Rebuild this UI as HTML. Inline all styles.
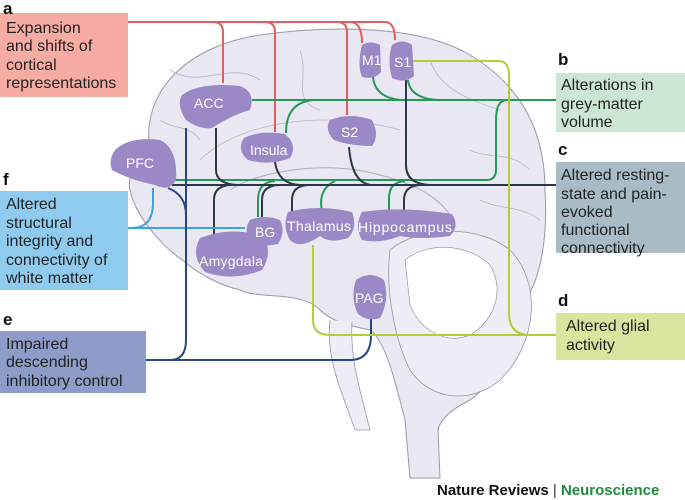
<!DOCTYPE html>
<html><head><meta charset="utf-8"><style>
body{margin:0;background:#fff}
svg{display:block}
text{font-family:"Liberation Sans",sans-serif}
.t{font-size:16px;fill:#222}
.w{font-size:14px;fill:#fff}
.l{font-size:17px;font-weight:bold;fill:#111}
</style></head><body>
<svg width="685" height="500" viewBox="0 0 685 500" xmlns="http://www.w3.org/2000/svg">
<path d="M150,150 C140,90 190,45 260,35 C330,25 420,25 470,55 C520,85 545,130 545,190 C548,240 540,280 525,300 C515,330 500,380 470,400 C450,410 440,420 438,430 L440,478 L410,478 L405,420 C395,380 385,340 370,330 C345,325 330,320 320,310 C300,290 260,300 240,290 C220,285 200,275 185,262 C160,245 135,215 130,190 C126,175 140,160 150,150 Z" fill="#e9e7f2" stroke="#9a98a8" stroke-width="1"/>
<path d="M390,250 C420,225 480,225 510,250 C540,280 540,340 500,380 C470,405 430,400 410,370 C395,340 385,290 390,250 Z" fill="#eeecf4" stroke="#9a98a8" stroke-width="0.8"/>
<path d="M405,260 C430,240 470,245 490,265 C505,290 495,320 470,335 C445,345 420,330 410,305 Z" fill="#fff" stroke="#9a98a8" stroke-width="0.7"/>
<path d="M230,190 C260,170 330,160 380,175 C420,185 440,200 450,215" fill="none" stroke="#b0aebc" stroke-width="1"/>
<path d="M200,160 C240,120 330,110 400,130" fill="none" stroke="#b8b6c4" stroke-width="0.8"/>
<path d="M330,320 C325,360 345,400 355,430 L370,430 C360,390 350,360 352,322" fill="#eeecf4" stroke="#9a98a8" stroke-width="0.8"/>
<path d="M170,70 C200,90 230,60 260,80 M300,50 C310,80 290,100 320,110 M430,60 C440,90 470,100 500,110 M160,120 C175,130 190,125 200,140 M470,150 C490,160 510,150 530,170 M480,200 C500,210 520,205 540,220" fill="none" stroke="#b8b6c4" stroke-width="0.8"/>
<rect x="0" y="13" width="128" height="84" fill="#f6aca2"/>
<rect x="556" y="73" width="129" height="59" fill="#cbe6d5"/>
<rect x="556" y="162" width="129" height="91" fill="#a9bcc5"/>
<rect x="556" y="313" width="129" height="47" fill="#d8e59f"/>
<rect x="0" y="191" width="128" height="99" fill="#8fcbee"/>
<rect x="0" y="331" width="146" height="62" fill="#8e9cc9"/>
<g fill="none" stroke-width="2">
<path stroke="#e85a5c" d="M128,22 H385 Q395,22 395,40 M223,83 V32 Q223,22 213,22 M275,132 V32 Q275,22 265,22 M347,115 V32 Q347,22 337,22 M362,43 Q362,22 350,22"/>
<path stroke="#27985a" d="M252,100 H556 M373,77 Q375,98 402,100 M408,80 Q410,98 437,100 M286,133 Q286,102 314,100 M507,100 Q496,100 496,120 V170 Q496,180 486,180 H172 M258,217 V200 Q258,182 275,181 M323,215 Q316,190 335,181 M389,212 V198 Q389,182 405,181"/>
<path stroke="#2b3646" d="M172,185 H556 M216,128 V170 Q216,184 238,185 M275,162 Q278,184 300,185 M349,147 Q352,184 372,185 M406,80 V165 Q406,184 430,185 M214,247 V200 Q214,186 230,185 M262,217 V200 Q262,186 278,185 M292,212 V200 Q292,186 308,185 M404,212 V200 Q404,186 420,185"/>
<path stroke="#3aa4dc" d="M128,228 H245 M132,228 Q152,228 153,205 V188"/>
<path stroke="#27468a" d="M146,360 H350 Q371,360 371,335 V318 M170,360 Q186,360 186,340 V128 M168,188 Q186,195 186,215"/>
<path stroke="#b6cd3a" d="M413,61 H498 Q509,61 509,75 V313 Q509,335 530,335 H556 M313,245 V320 Q313,335 330,335 H530"/>
</g>
<g fill="#9b88c6">
<path d="M362,45 Q370,40 380,45 L381,72 Q375,80 362,77 Q357,65 362,45Z"/>
<path d="M392,45 Q402,38 412,45 L414,76 Q405,84 392,78 Q387,60 392,45Z"/>
<path d="M182,95 Q200,82 240,86 Q256,92 250,110 Q232,115 212,128 Q200,130 186,120 Q176,105 182,95Z"/>
<path d="M244,138 Q260,130 285,134 Q298,145 290,158 Q270,166 248,160 Q236,150 244,138Z"/>
<path d="M330,120 Q350,112 372,120 Q380,135 372,146 Q350,146 334,140 Q324,130 330,120Z"/>
<path d="M115,150 Q130,136 160,140 Q178,148 176,180 Q170,192 155,185 Q130,180 112,170 Q108,160 115,150Z"/>
<path d="M250,220 Q265,214 280,220 Q286,232 278,244 Q262,248 250,240 Q243,230 250,220Z"/>
<path d="M288,212 Q318,204 352,212 Q358,228 348,238 Q330,244 320,236 Q300,250 290,240 Q282,226 288,212Z"/>
<path d="M362,212 Q400,206 452,214 Q460,226 450,236 Q420,240 400,236 Q380,244 362,240 Q354,226 362,212Z"/>
<path d="M200,238 Q230,226 262,236 Q274,250 262,270 Q232,282 205,272 Q190,256 200,238Z"/>
<path d="M356,280 Q370,270 384,280 Q390,300 380,318 Q368,322 358,314 Q350,298 356,280Z"/>
</g>
<g class="w">
<text x="362" y="65">M1</text><text x="394" y="67">S1</text>
<text x="194" y="108">ACC</text><text x="250" y="155">Insula</text>
<text x="341" y="137">S2</text><text x="126" y="168">PFC</text>
<text x="255" y="237">BG</text><text x="287" y="231" textLength="64">Thalamus</text>
<text x="358" y="232" textLength="94">Hippocampus</text><text x="199" y="266" textLength="64">Amygdala</text>
<text x="355" y="303">PAG</text>
</g>
<text class="l" x="3" y="14">a</text>
<text class="l" x="558" y="65">b</text>
<text class="l" x="558" y="155">c</text>
<text class="l" x="558" y="306">d</text>
<text class="l" x="3" y="185">f</text>
<text class="l" x="3" y="325">e</text>
<g class="t">
<text x="6" y="33">Expansion</text><text x="6" y="51">and shifts of</text><text x="6" y="70">cortical</text><text x="6" y="88">representations</text>
<text x="561" y="90">Alterations in</text>
<text x="561" y="109">grey-matter</text><text x="561" y="127">volume</text>
<text x="561" y="180">Altered resting-</text><text x="561" y="199">state and pain-</text><text x="561" y="217">evoked</text><text x="561" y="235">functional</text><text x="561" y="253">connectivity</text>
<text x="566" y="331">Altered glial</text><text x="566" y="350">activity</text>
<text x="6" y="209">Altered</text><text x="6" y="228">structural</text><text x="6" y="246">integrity and</text><text x="6" y="265">connectivity of</text><text x="6" y="283">white matter</text>
<text x="6" y="349">Impaired</text><text x="6" y="367">descending</text><text x="6" y="386">inhibitory control</text>
</g>
<text x="437" y="495" style="font-size:15px;font-weight:bold;fill:#111">Nature Reviews <tspan fill="#333" font-weight="normal">|</tspan> <tspan fill="#1f8a3e">Neuroscience</tspan></text>
</svg>
</body></html>
